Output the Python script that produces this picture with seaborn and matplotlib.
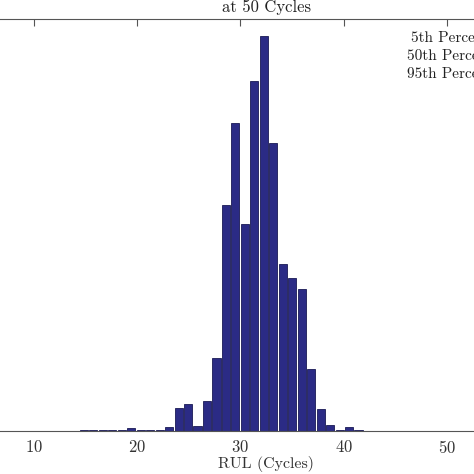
import numpy as np
import pandas as pd
import matplotlib
matplotlib.use("Agg")
import matplotlib.pyplot as plt
import seaborn as sns

# RUL histogram, 30 bins between the min and max sample
bin_lo, bin_hi, n_bins = 14.4, 41.9, 30
counts = [1, 2, 1, 2, 2, 6, 1, 1, 1, 8,
          46, 54, 10, 60, 146, 452, 616, 414, 700, 790,
          576, 334, 306, 284, 124, 44, 11, 2, 7, 2]
x_ticks = [10, 20, 30, 40, 50]
pct_labels = ["5th Percentile", "50th Percentile", "95th Percentile"]

edges = np.linspace(bin_lo, bin_hi, n_bins + 1)
df = pd.DataFrame({"rul": (edges[:-1] + edges[1:]) / 2, "count": counts})

sns.set_style("white")
plt.rcParams["font.family"] = ["cmr10", "DejaVu Serif"]
plt.rcParams["axes.formatter.use_mathtext"] = True

W = H = 474
fig = plt.figure(figsize=(4.74, 4.74), dpi=100)
# axes is wider than the picture: left/right spines and y labels fall outside
ax = fig.add_axes([-18.0 / W, 43.0 / H, 568.3 / W, 411.7 / H])

sns.histplot(data=df, x="rul", weights="count", bins=n_bins,
             binrange=(bin_lo, bin_hi), shrink=0.86,
             color="#2b2b85", edgecolor="#1a1a55", linewidth=0.6,
             alpha=1, ax=ax)

ax.set_xlim(5, 60)
ax.set_ylim(0, 823)
ax.set_xticks(x_ticks)
ax.set_yticks([])
ax.set_ylabel("")
ax.set_xlabel("RUL (Cycles)", fontsize=11.5, labelpad=0, color="#333333")
ax.set_title("at 50 Cycles", fontsize=12, pad=5, color="#222222")

for s in ax.spines.values():
    s.set_color("#555555")
    s.set_linewidth(0.8)
ax.tick_params(axis="x", direction="in", top=True, length=4.8, width=0.8,
               color="#555555", labelsize=12, labelcolor="#333333", pad=5.5)

# legend entries (box cut off by the right edge)
for lbl, x0, y0 in zip(pct_labels, [411, 407, 407], [42.3, 60.0, 77.7]):
    fig.text(x0 / W, 1 - y0 / H, lbl, fontsize=11, va="baseline",
             ha="left", color="#222222")

fig.savefig("out.png", dpi=100)
